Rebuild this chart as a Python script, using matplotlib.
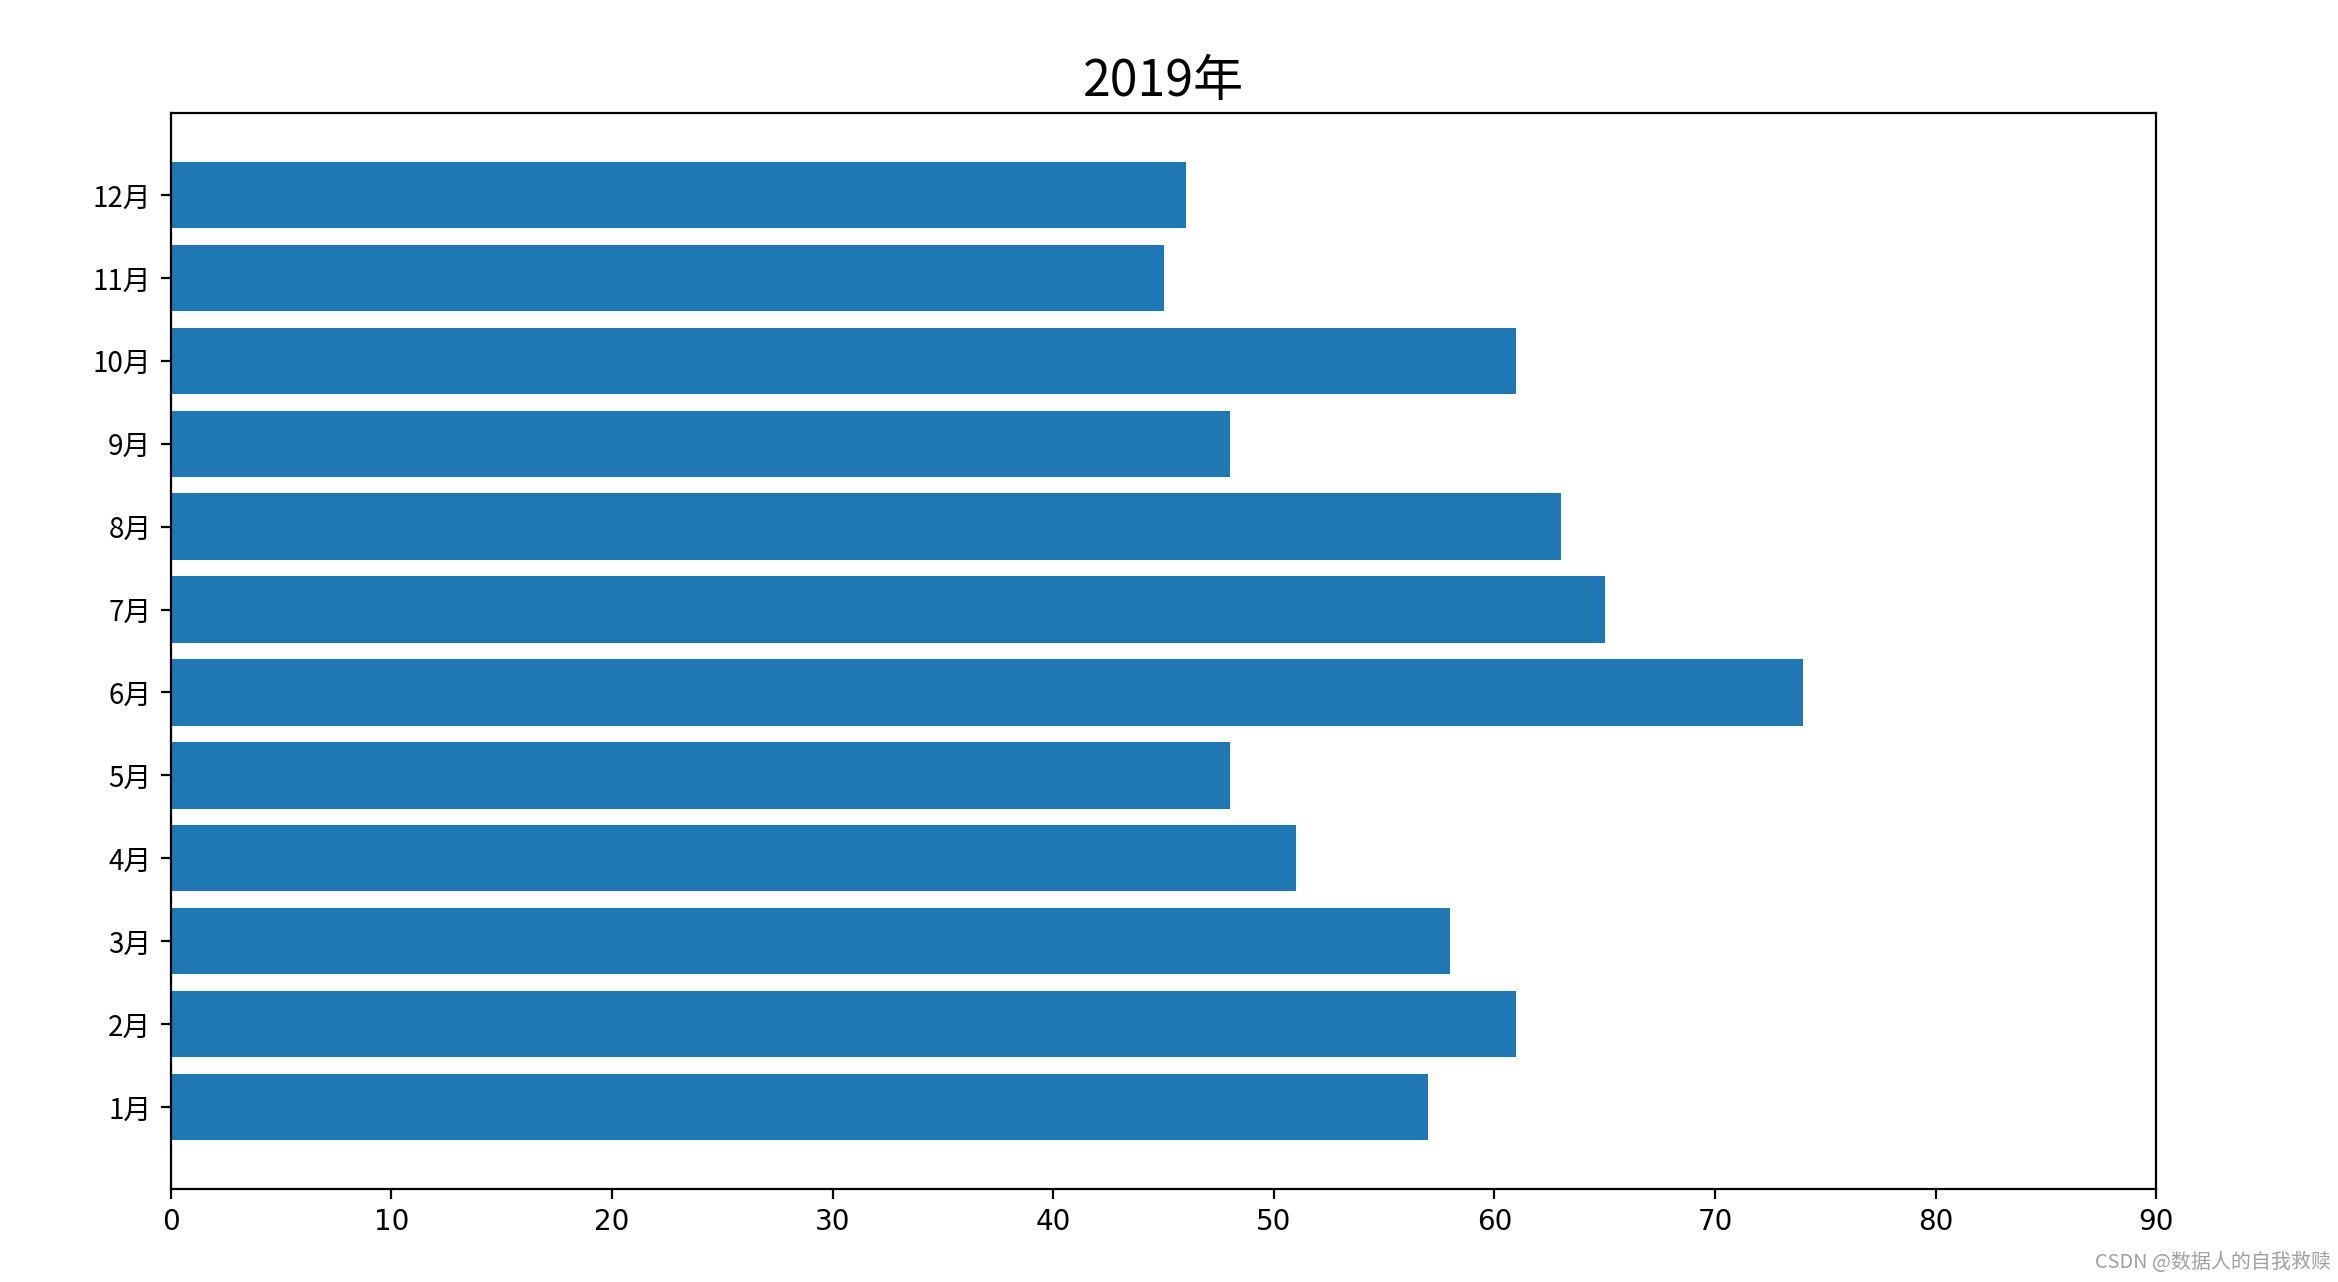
import matplotlib
matplotlib.use('Agg')
import matplotlib.pyplot as plt

plt.rcParams['font.family'] = ['Noto Sans CJK SC', 'DejaVu Sans']

months = ['1月', '2月', '3月', '4月', '5月', '6月',
          '7月', '8月', '9月', '10月', '11月', '12月']
sales = [57, 61, 58, 51, 48, 74, 65, 63, 48, 61, 45, 46]


def main():
    fig = plt.figure(figsize=(11.69, 6.41), dpi=200)
    ax = fig.add_axes([0.0731, 0.0725, 0.8491, 0.8394])
    ax.barh(range(len(months)), sales, color='#1f77b4')
    ax.set_yticks(range(len(months)))
    ax.set_yticklabels(months, fontsize=10)
    ax.set_xlim(0, 90)
    ax.set_xticks(range(0, 91, 10))
    for lb in ax.get_xticklabels():
        lb.set_family('DejaVu Sans')
        lb.set_fontsize(10)
    ax.set_title('2019年', fontsize=18)
    # watermark at the bottom right corner
    fig.text(0.997, 0.007, 'CSDN @数据人的自我救赎', ha='right', va='bottom',
             fontsize=7.2, color='#a0a0a0')
    fig.savefig('out.png', dpi=200)


if __name__ == '__main__':
    main()
